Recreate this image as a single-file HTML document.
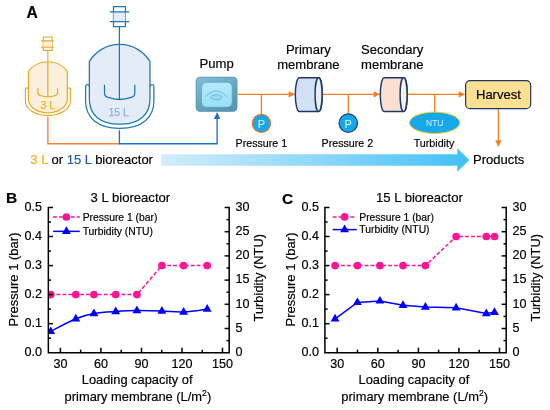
<!DOCTYPE html>
<html><head><meta charset="utf-8"><title>Figure</title>
<style>
html,body{margin:0;padding:0;background:#fff;}
body{width:550px;height:410px;overflow:hidden;}
svg{display:block;font-family:"Liberation Sans",sans-serif;}
</style></head><body>
<svg width="550" height="410" viewBox="0 0 550 410">
<rect width="550" height="410" fill="#fff"/>
<defs>
<linearGradient id="ga" x1="0" x2="1" y1="0" y2="0"><stop offset="0" stop-color="#d2edfc"/><stop offset="0.5" stop-color="#8fd7fa"/><stop offset="1" stop-color="#40c0f7"/></linearGradient>
<linearGradient id="gp" x1="0" x2="0.6" y1="0" y2="1"><stop offset="0" stop-color="#80bfd7"/><stop offset="1" stop-color="#5896b1"/></linearGradient>
<linearGradient id="gp2" x1="0" x2="0" y1="0" y2="1"><stop offset="0" stop-color="#b2eafc"/><stop offset="1" stop-color="#9ae0f6"/></linearGradient>
</defs>
<text x="26.4" y="17.6" font-size="15.6px" font-weight="bold" stroke="#000" stroke-width="0.18">A</text>
<!-- big arrow -->
<path d="M161.1 154.3H457.3V148.2L469.4 159.9L457.3 171.7V165.8H161.1z" fill="url(#ga)"/>
<!-- connection lines -->
<g fill="none" stroke-width="1.35">
<path d="M47.9 117V143.7H119.4" stroke="#f4823a"/>
<path d="M119.4 130.2V143.7H217.1V117" stroke="#1f6fd0"/>
<path d="M237.4 94.35H290" stroke="#f58026"/>
<path d="M261.4 94.35V114" stroke="#f58026"/>
<path d="M322.2 94.35H375" stroke="#f58026"/>
<path d="M348.3 94.35V114" stroke="#f58026"/>
<path d="M407.2 94.35H460" stroke="#f58026"/>
<path d="M434.7 94.35V112" stroke="#f58026"/>
<path d="M498.4 108.8V142" stroke="#f58026"/>
</g>
<path d="M217.1 111.9l3.2 7h-6.4z" fill="#1f6fd0"/>
<path d="M295.2 94.35l-6.6 -3.2v6.4z" fill="#f58026"/>
<path d="M380.2 94.35l-6.6 -3.2v6.4z" fill="#f58026"/>
<path d="M465.2 94.35l-6.6 -3.2v6.4z" fill="#f58026"/>
<path d="M498.4 146.9l-3.2 -6.6h6.4z" fill="#f58026"/>
<!-- 3L reactor -->
<g fill="none" stroke="#e8a722" stroke-width="1.15" stroke-linejoin="round">
<path d="M28.4 89.8V89.3Q28.4 87.8 26.9 87.8T25.4 89.3V101C25.4 109 35 115.6 47.9 115.6C60.8 115.6 70.4 109 70.4 101V89.3Q70.4 87.8 68.9 87.8T67.3 89.3V89.8" />
<path d="M28.4 71.4A24.4 24.4 0 0 1 67.3 71.4V99C67.3 106 59.7 112.8 47.85 112.8C36 112.8 28.4 106 28.4 99z" fill="#fcf0dd"/>
<rect x="43.3" y="37" width="8.9" height="13.4" fill="#fff"/>
<rect x="43.3" y="40.8" width="8.9" height="6.4" fill="#fcf0dd" stroke="none"/>
<path d="M41.1 40.8H53.8M41.1 47.2H53.8"/>
<path d="M47.85 50.4V96.3"/>
<path d="M37.9 87.8V92.2Q37.9 95 41 95.8Q47.85 97.8 54.6 95.8Q57.6 95 57.6 92.2V87.8"/>
</g>
<text x="47.8" y="108.5" font-size="10.6px" fill="#f5b21c" stroke="#f5b21c" stroke-width="0.25" text-anchor="middle">3 L</text>
<!-- 15L reactor -->
<g fill="none" stroke="#1f77b4" stroke-width="1.25" stroke-linejoin="round">
<path d="M89.35 87V86.5Q89.35 84.7 87.5 84.7T85.6 86.5V101C85.6 117 97 128.3 119.75 128.3C142.5 128.3 153.9 117 153.9 101V86.5Q153.9 84.7 152 84.7T149.95 86.5V87"/>
<path d="M89.35 61.4A35.6 35.6 0 0 1 149.95 61.4V99C149.95 114 140.3 124.2 119.65 124.2C99 124.2 89.35 114 89.35 99z" fill="#e4ecf7"/>
<rect x="113.5" y="6.5" width="11.9" height="20" fill="#fff"/>
<rect x="113.5" y="11.8" width="11.9" height="9.8" fill="#e4ecf7" stroke="none"/>
<path d="M109.7 11.8H129.3M109.7 21.6H129.3"/>
<path d="M119.4 26.5V99.3"/>
<path d="M104.5 84.7V93Q104.5 96.3 108 97.4Q119.6 101.6 131.3 97.4Q134.8 96.3 134.8 93V84.7"/>
</g>
<text x="118.7" y="116.3" font-size="10.6px" fill="#8db3de" stroke="#8db3de" stroke-width="0.25" text-anchor="middle">15 L</text>
<!-- pump -->
<rect x="196" y="77.1" width="41.1" height="34.4" rx="4" fill="url(#gp)" stroke="#4f8eaa" stroke-width="0.6"/>
<rect x="201.5" y="82.3" width="30.7" height="25" rx="5" fill="url(#gp2)" stroke="#5a9db8" stroke-width="0.7"/>
<g fill="none" stroke="#5aa5c2" stroke-width="0.7">
<ellipse cx="216.3" cy="97.2" rx="5.5" ry="2.5" fill="#95dcf3"/>
<path d="M205.4 96.9C210 91.5 216 91 216.3 91C217 91 222.5 91.5 227.1 96.9"/>
</g>
<text x="216.6" y="67.6" font-size="13.1px" text-anchor="middle" stroke="#000" stroke-width="0.18">Pump</text>
<!-- P gauges -->
<circle cx="261.4" cy="123.4" r="9.1" fill="#17a8ea" stroke="#f07424" stroke-width="1.2"/>
<text x="261.3" y="127.8" font-size="11px" fill="#e8f6ff" text-anchor="middle">P</text>
<circle cx="348.3" cy="123.1" r="9.25" fill="#17a8ea" stroke="#1f3f6f" stroke-width="1.2"/>
<text x="348.2" y="127.5" font-size="11px" fill="#e8f6ff" text-anchor="middle">P</text>
<ellipse cx="434.65" cy="122.8" rx="25.2" ry="10.7" fill="#17a8ea" stroke="#f5d228" stroke-width="1"/>
<text x="434.7" y="126" font-size="8.4px" fill="#d8f0ff" text-anchor="middle">NTU</text>
<text x="261.4" y="147.3" font-size="10.7px" text-anchor="middle" stroke="#000" stroke-width="0.18">Pressure 1</text>
<text x="347.4" y="147.3" font-size="10.7px" text-anchor="middle" stroke="#000" stroke-width="0.18">Pressure 2</text>
<text x="434" y="147" font-size="10.7px" text-anchor="middle" stroke="#000" stroke-width="0.18">Turbidity</text>
<!-- membranes -->
<g stroke="#1c3a66" stroke-width="1.45">
<path d="M299.3 77.7H318.6A3.5 16.9 0 0 1 318.6 111.5H299.3A4 16.9 0 0 1 299.3 77.7z" fill="#d3e1f5"/>
<ellipse cx="318.6" cy="94.6" rx="3.5" ry="16.9" fill="#e8eff9"/>
<path d="M384.3 77.7H403.6A3.5 16.9 0 0 1 403.6 111.5H384.3A4 16.9 0 0 1 384.3 77.7z" fill="#fbdfd2"/>
<ellipse cx="403.6" cy="94.6" rx="3.5" ry="16.9" fill="#fdf1eb"/>
</g>
<g font-size="13.05px" text-anchor="middle">
<text x="308.4" y="53.8" stroke="#000" stroke-width="0.18">Primary</text>
<text x="308.4" y="68.9" stroke="#000" stroke-width="0.18">membrane</text>
<text x="392.2" y="53.8" stroke="#000" stroke-width="0.18">Secondary</text>
<text x="392.3" y="68.9" stroke="#000" stroke-width="0.18">membrane</text>
</g>
<!-- harvest -->
<rect x="465.6" y="80.7" width="65.1" height="28" rx="4.5" fill="#fbdf93" stroke="#1f3a5f" stroke-width="1.2"/>
<text x="498.4" y="99.3" font-size="13px" text-anchor="middle" stroke="#000" stroke-width="0.18">Harvest</text>
<text x="498.7" y="163.5" font-size="13px" text-anchor="middle" stroke="#000" stroke-width="0.18">Products</text>
<text x="30.3" y="163.8" font-size="13px" stroke="#000" stroke-width="0.18"><tspan fill="#f5b21c" stroke="#f5b21c">3 L</tspan> or <tspan fill="#1f5fa8" stroke="#1f5fa8">15 L</tspan> bioreactor</text>

<clipPath id="cpb"><rect x="48.35" y="201.5" width="180.85" height="151.2"/></clipPath>
<g clip-path="url(#cpb)">
<polyline points="50.7,294.6 75.8,294.6 93.9,294.6 115.7,294.6 136.9,294.6 161.9,265.6 183.6,265.6 207.2,265.6" fill="none" stroke="#ff1493" stroke-width="1.5" stroke-dasharray="3.8 2.1"/>
<circle cx="50.7" cy="294.6" r="3.85" fill="#ff1493"/>
<circle cx="75.8" cy="294.6" r="3.85" fill="#ff1493"/>
<circle cx="93.9" cy="294.6" r="3.85" fill="#ff1493"/>
<circle cx="115.7" cy="294.6" r="3.85" fill="#ff1493"/>
<circle cx="136.9" cy="294.6" r="3.85" fill="#ff1493"/>
<circle cx="161.9" cy="265.6" r="3.85" fill="#ff1493"/>
<circle cx="183.6" cy="265.6" r="3.85" fill="#ff1493"/>
<circle cx="207.2" cy="265.6" r="3.85" fill="#ff1493"/>
<path d="M50.7 331.4C54.9 329.3 68.6 321.8 75.8 318.8C83.0 315.8 87.2 314.7 93.9 313.5C100.6 312.3 108.5 312.0 115.7 311.6C122.9 311.1 129.2 310.7 136.9 310.6C144.6 310.5 154.1 310.8 161.9 311.1C169.7 311.3 176.1 312.4 183.6 312.0C191.1 311.7 203.3 309.6 207.2 309.1" fill="none" stroke="#0000ff" stroke-width="1.5"/>
<path d="M50.7 326.4l4.45 7.7h-8.9z" fill="#0000ff"/>
<path d="M75.8 313.8l4.45 7.7h-8.9z" fill="#0000ff"/>
<path d="M93.9 308.5l4.45 7.7h-8.9z" fill="#0000ff"/>
<path d="M115.7 306.6l4.45 7.7h-8.9z" fill="#0000ff"/>
<path d="M136.9 305.6l4.45 7.7h-8.9z" fill="#0000ff"/>
<path d="M161.9 306.1l4.45 7.7h-8.9z" fill="#0000ff"/>
<path d="M183.6 307.0l4.45 7.7h-8.9z" fill="#0000ff"/>
<path d="M207.2 304.1l4.45 7.7h-8.9z" fill="#0000ff"/>
</g>
<g stroke="#000" stroke-width="1.5" fill="none">
<path d="M52.95 207.5H48.35V352.7H229.2V207.5H224.6" stroke-linecap="butt" stroke-linejoin="miter"/>
<path d="M48.35 338.2h2.7"/>
<path d="M48.35 323.7h4.6"/>
<path d="M48.35 309.1h2.7"/>
<path d="M48.35 294.6h4.6"/>
<path d="M48.35 280.1h2.7"/>
<path d="M48.35 265.6h4.6"/>
<path d="M48.35 251.1h2.7"/>
<path d="M48.35 236.5h4.6"/>
<path d="M48.35 222.0h2.7"/>
<path d="M229.2 340.6h-2.7"/>
<path d="M229.2 328.5h-4.6"/>
<path d="M229.2 316.4h-2.7"/>
<path d="M229.2 304.3h-4.6"/>
<path d="M229.2 292.2h-2.7"/>
<path d="M229.2 280.1h-4.6"/>
<path d="M229.2 268.0h-2.7"/>
<path d="M229.2 255.9h-4.6"/>
<path d="M229.2 243.8h-2.7"/>
<path d="M229.2 231.7h-4.6"/>
<path d="M229.2 219.6h-2.7"/>
<path d="M60.4 352.7v-5"/>
<path d="M80.7 352.7v-3"/>
<path d="M100.9 352.7v-5"/>
<path d="M121.2 352.7v-3"/>
<path d="M141.5 352.7v-5"/>
<path d="M161.7 352.7v-3"/>
<path d="M182.0 352.7v-5"/>
<path d="M202.3 352.7v-3"/>
<path d="M222.5 352.7v-5"/>
</g>
<g font-size="12.6px" fill="#000">
<text x="41.95" y="356.0" text-anchor="end" stroke="#000" stroke-width="0.18">0.0</text>
<text x="41.95" y="327.0" text-anchor="end" stroke="#000" stroke-width="0.18">0.1</text>
<text x="41.95" y="297.9" text-anchor="end" stroke="#000" stroke-width="0.18">0.2</text>
<text x="41.95" y="268.9" text-anchor="end" stroke="#000" stroke-width="0.18">0.3</text>
<text x="41.95" y="239.8" text-anchor="end" stroke="#000" stroke-width="0.18">0.4</text>
<text x="41.95" y="210.8" text-anchor="end" stroke="#000" stroke-width="0.18">0.5</text>
<text x="235.39999999999998" y="355.9" stroke="#000" stroke-width="0.18">0</text>
<text x="235.39999999999998" y="331.7" stroke="#000" stroke-width="0.18">5</text>
<text x="235.39999999999998" y="307.5" stroke="#000" stroke-width="0.18">10</text>
<text x="235.39999999999998" y="283.3" stroke="#000" stroke-width="0.18">15</text>
<text x="235.39999999999998" y="259.1" stroke="#000" stroke-width="0.18">20</text>
<text x="235.39999999999998" y="234.9" stroke="#000" stroke-width="0.18">25</text>
<text x="235.39999999999998" y="210.7" stroke="#000" stroke-width="0.18">30</text>
<text x="60.4" y="367.7" text-anchor="middle" stroke="#000" stroke-width="0.18">30</text>
<text x="100.9" y="367.7" text-anchor="middle" stroke="#000" stroke-width="0.18">60</text>
<text x="141.5" y="367.7" text-anchor="middle" stroke="#000" stroke-width="0.18">90</text>
<text x="182.0" y="367.7" text-anchor="middle" stroke="#000" stroke-width="0.18">120</text>
<text x="222.5" y="367.7" text-anchor="middle" stroke="#000" stroke-width="0.18">150</text>
</g>
<path d="M53.1 217.0H79.8" stroke="#ff1493" stroke-width="1.5" stroke-dasharray="3.8 2.1" fill="none"/>
<circle cx="66.4" cy="217.0" r="3.85" fill="#ff1493"/>
<path d="M53.1 231.35H79.8" stroke="#0000ff" stroke-width="1.5" fill="none"/>
<path d="M66.4 226.3l4.45 7.7h-8.9z" fill="#0000ff"/>
<text x="82.7" y="220.8" font-size="10.35px" stroke="#000" stroke-width="0.18">Pressure 1 (bar)</text>
<text x="82.7" y="235.0" font-size="10.35px" stroke="#000" stroke-width="0.18">Turbidity (NTU)</text>
<text x="90.6" y="201.6" font-size="13.1px" stroke="#000" stroke-width="0.18">3 L bioreactor</text>
<text x="5.9" y="202.8" font-size="15.5px" font-weight="bold" stroke="#000" stroke-width="0.18">B</text>
<text x="137.175" y="383.5" font-size="12.86px" text-anchor="middle" stroke="#000" stroke-width="0.18">Loading capacity of</text>
<text x="137.875" y="401" font-size="12.9px" text-anchor="middle" stroke="#000" stroke-width="0.18">primary membrane (L/m<tspan dy="-4.6" font-size="8.6px">2</tspan><tspan dy="4.6">)</tspan></text>
<text transform="translate(18.150000000000002 279.5) rotate(-90)" font-size="13px" text-anchor="middle" stroke="#000" stroke-width="0.18">Pressure 1 (bar)</text>
<text transform="translate(262.5 277.70000000000005) rotate(-90)" font-size="12.9px" text-anchor="middle" stroke="#000" stroke-width="0.18">Turbidity (NTU)</text>
<clipPath id="cpc"><rect x="324.9" y="201.5" width="181.3" height="151.2"/></clipPath>
<g clip-path="url(#cpc)">
<polyline points="335.1,265.6 357.4,265.6 379.9,265.6 403.0,265.6 425.4,265.6 456.1,236.5 486.3,236.5 494.5,236.5" fill="none" stroke="#ff1493" stroke-width="1.5" stroke-dasharray="3.8 2.1"/>
<circle cx="335.1" cy="265.6" r="3.85" fill="#ff1493"/>
<circle cx="357.4" cy="265.6" r="3.85" fill="#ff1493"/>
<circle cx="379.9" cy="265.6" r="3.85" fill="#ff1493"/>
<circle cx="403.0" cy="265.6" r="3.85" fill="#ff1493"/>
<circle cx="425.4" cy="265.6" r="3.85" fill="#ff1493"/>
<circle cx="456.1" cy="236.5" r="3.85" fill="#ff1493"/>
<circle cx="486.3" cy="236.5" r="3.85" fill="#ff1493"/>
<circle cx="494.5" cy="236.5" r="3.85" fill="#ff1493"/>
<polyline points="335.1,318.8 357.4,302.4 379.9,300.9 403.0,305.3 425.4,307.0 456.1,307.7 486.3,313.5 494.5,312.3" fill="none" stroke="#0000ff" stroke-width="1.5"/>
<path d="M335.1 313.8l4.45 7.7h-8.9z" fill="#0000ff"/>
<path d="M357.4 297.4l4.45 7.7h-8.9z" fill="#0000ff"/>
<path d="M379.9 295.9l4.45 7.7h-8.9z" fill="#0000ff"/>
<path d="M403.0 300.3l4.45 7.7h-8.9z" fill="#0000ff"/>
<path d="M425.4 302.0l4.45 7.7h-8.9z" fill="#0000ff"/>
<path d="M456.1 302.7l4.45 7.7h-8.9z" fill="#0000ff"/>
<path d="M486.3 308.5l4.45 7.7h-8.9z" fill="#0000ff"/>
<path d="M494.5 307.3l4.45 7.7h-8.9z" fill="#0000ff"/>
</g>
<g stroke="#000" stroke-width="1.5" fill="none">
<path d="M329.5 207.5H324.9V352.7H506.2V207.5H501.59999999999997" stroke-linecap="butt" stroke-linejoin="miter"/>
<path d="M324.9 338.2h2.7"/>
<path d="M324.9 323.7h4.6"/>
<path d="M324.9 309.1h2.7"/>
<path d="M324.9 294.6h4.6"/>
<path d="M324.9 280.1h2.7"/>
<path d="M324.9 265.6h4.6"/>
<path d="M324.9 251.1h2.7"/>
<path d="M324.9 236.5h4.6"/>
<path d="M324.9 222.0h2.7"/>
<path d="M506.2 340.6h-2.7"/>
<path d="M506.2 328.5h-4.6"/>
<path d="M506.2 316.4h-2.7"/>
<path d="M506.2 304.3h-4.6"/>
<path d="M506.2 292.2h-2.7"/>
<path d="M506.2 280.1h-4.6"/>
<path d="M506.2 268.0h-2.7"/>
<path d="M506.2 255.9h-4.6"/>
<path d="M506.2 243.8h-2.7"/>
<path d="M506.2 231.7h-4.6"/>
<path d="M506.2 219.6h-2.7"/>
<path d="M337.2 352.7v-5"/>
<path d="M357.5 352.7v-3"/>
<path d="M377.8 352.7v-5"/>
<path d="M398.1 352.7v-3"/>
<path d="M418.4 352.7v-5"/>
<path d="M438.6 352.7v-3"/>
<path d="M458.9 352.7v-5"/>
<path d="M479.2 352.7v-3"/>
<path d="M499.5 352.7v-5"/>
</g>
<g font-size="12.6px" fill="#000">
<text x="319.0" y="356.0" text-anchor="end" stroke="#000" stroke-width="0.18">0.0</text>
<text x="319.0" y="327.0" text-anchor="end" stroke="#000" stroke-width="0.18">0.1</text>
<text x="319.0" y="297.9" text-anchor="end" stroke="#000" stroke-width="0.18">0.2</text>
<text x="319.0" y="268.9" text-anchor="end" stroke="#000" stroke-width="0.18">0.3</text>
<text x="319.0" y="239.8" text-anchor="end" stroke="#000" stroke-width="0.18">0.4</text>
<text x="319.0" y="210.8" text-anchor="end" stroke="#000" stroke-width="0.18">0.5</text>
<text x="512.4" y="355.9" stroke="#000" stroke-width="0.18">0</text>
<text x="512.4" y="331.7" stroke="#000" stroke-width="0.18">5</text>
<text x="512.4" y="307.5" stroke="#000" stroke-width="0.18">10</text>
<text x="512.4" y="283.3" stroke="#000" stroke-width="0.18">15</text>
<text x="512.4" y="259.1" stroke="#000" stroke-width="0.18">20</text>
<text x="512.4" y="234.9" stroke="#000" stroke-width="0.18">25</text>
<text x="512.4" y="210.7" stroke="#000" stroke-width="0.18">30</text>
<text x="337.2" y="367.7" text-anchor="middle" stroke="#000" stroke-width="0.18">30</text>
<text x="377.8" y="367.7" text-anchor="middle" stroke="#000" stroke-width="0.18">60</text>
<text x="418.4" y="367.7" text-anchor="middle" stroke="#000" stroke-width="0.18">90</text>
<text x="458.9" y="367.7" text-anchor="middle" stroke="#000" stroke-width="0.18">120</text>
<text x="499.5" y="367.7" text-anchor="middle" stroke="#000" stroke-width="0.18">150</text>
</g>
<path d="M332.7 216.95H354.3" stroke="#ff1493" stroke-width="1.5" stroke-dasharray="3.8 2.1" fill="none"/>
<circle cx="344.6" cy="216.95" r="3.85" fill="#ff1493"/>
<path d="M332.7 229.6H356.8" stroke="#0000ff" stroke-width="1.5" fill="none"/>
<path d="M344.6 224.6l4.45 7.7h-8.9z" fill="#0000ff"/>
<text x="359.25" y="220.5" font-size="10.35px" stroke="#000" stroke-width="0.18">Pressure 1 (bar)</text>
<text x="359.25" y="233.2" font-size="10.35px" stroke="#000" stroke-width="0.18">Turbidity (NTU)</text>
<text x="376.0" y="201.6" font-size="13.1px" stroke="#000" stroke-width="0.18">15 L bioreactor</text>
<text x="282.0" y="203.9" font-size="15.5px" font-weight="bold" stroke="#000" stroke-width="0.18">C</text>
<text x="413.94999999999993" y="383.5" font-size="12.86px" text-anchor="middle" stroke="#000" stroke-width="0.18">Loading capacity of</text>
<text x="414.65" y="401" font-size="12.9px" text-anchor="middle" stroke="#000" stroke-width="0.18">primary membrane (L/m<tspan dy="-4.6" font-size="8.6px">2</tspan><tspan dy="4.6">)</tspan></text>
<text transform="translate(294.7 279.5) rotate(-90)" font-size="13px" text-anchor="middle" stroke="#000" stroke-width="0.18">Pressure 1 (bar)</text>
<text transform="translate(539.5 277.70000000000005) rotate(-90)" font-size="12.9px" text-anchor="middle" stroke="#000" stroke-width="0.18">Turbidity (NTU)</text>
</svg>
</body></html>
